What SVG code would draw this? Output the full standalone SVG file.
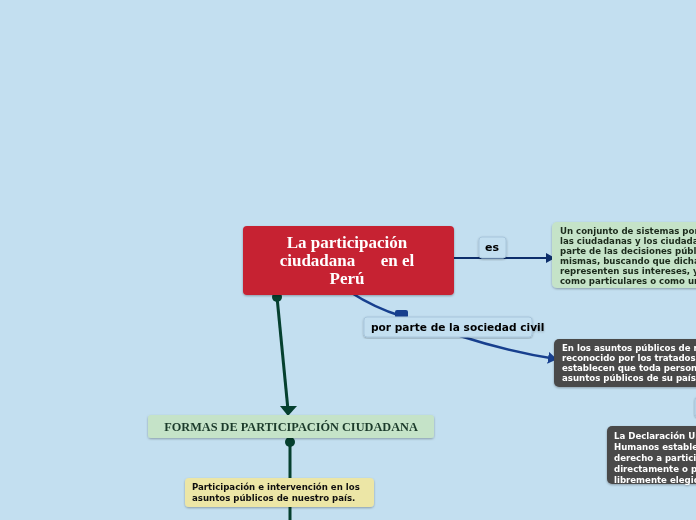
<svg xmlns="http://www.w3.org/2000/svg" width="696" height="520" viewBox="0 0 696 520">
<style>
.s{font-family:"DejaVu Sans",sans-serif;font-weight:bold;font-size:8.6px}
.w{fill:#fff}
</style>
<defs>
<marker id="ab" markerWidth="10" markerHeight="10" refX="8" refY="5" orient="auto" markerUnits="userSpaceOnUse"><path d="M0,0L9,5L0,10z" fill="#0d2e6b"/></marker>
<marker id="ab2" markerWidth="10" markerHeight="12" refX="8" refY="6" orient="auto" markerUnits="userSpaceOnUse"><path d="M0,0L9,6L0,12z" fill="#173f8e"/></marker>
<filter id="sh"><feDropShadow dx="0" dy="1" stdDeviation="0.8" flood-opacity="0.3"/></filter>
</defs>
<rect width="696" height="520" fill="#c3dff0"/>
<g id="connectors" fill="none">
<path d="M454,258 L554,258" stroke="#0d2e6b" stroke-width="2" marker-end="url(#ab)"/>
<path d="M350,292 Q375,308 401,316" stroke="#173f8e" stroke-width="2.5"/>
<path d="M460,336 Q510,352 556,359" stroke="#173f8e" stroke-width="2.5" marker-end="url(#ab2)"/>
<path d="M277,297 L288,410" stroke="#05402f" stroke-width="3"/>
<path d="M280,406 L288,416 L297,406 z" fill="#05402f"/>
<circle cx="277" cy="297" r="5" fill="#05402f"/>
<path d="M290,442 L290,520" stroke="#05402f" stroke-width="3"/>
<circle cx="290" cy="442" r="5" fill="#05402f"/>
<rect x="395" y="310" width="13" height="8" rx="2" fill="#173f8e"/>
</g>
<g id="main" filter="url(#sh)">
<rect x="243" y="226" width="211" height="69" rx="4" fill="#c62033"/>
<text font-family="Liberation Serif,serif" font-weight="bold" font-size="17" class="w" text-anchor="middle" xml:space="preserve" style="white-space:pre"><tspan x="347" y="248">La participación</tspan><tspan x="347" y="266">ciudadana      en el</tspan><tspan x="347" y="284">Perú</tspan></text>
</g>
<g id="es" filter="url(#sh)">
<rect x="479" y="237" width="27" height="21" rx="3" fill="#c3dff0" stroke="#a8c6dc"/>
<text class="s" x="492" y="251" text-anchor="middle" style="font-size:11px">es</text>
</g>
<g id="def" filter="url(#sh)">
<rect x="552" y="222" width="160" height="66" rx="5" fill="#c5e3c8"/>
<text class="s" fill="#1b2a1b"><tspan x="560" y="234">Un conjunto de sistemas por medio de los cuales</tspan><tspan x="560" y="244">las ciudadanas y los ciudadanos pueden formar</tspan><tspan x="560" y="254">parte de las decisiones públicas, o influir en las</tspan><tspan x="560" y="264">mismas, buscando que dichas decisiones</tspan><tspan x="560" y="274">representen sus intereses, ya sea de ellos</tspan><tspan x="560" y="284">como particulares o como un grupo social.</tspan></text>
</g>
<g id="sociedad" filter="url(#sh)">
<rect x="364" y="317" width="168" height="20" rx="3" fill="#c3dff0" stroke="#a8c6dc"/>
<text class="s" x="371" y="331" style="font-size:10.6px">por parte de la sociedad civil</text>
</g>
<g id="asuntos" filter="url(#sh)">
<rect x="554" y="339" width="160" height="48" rx="5" fill="#4a4a4a"/>
<text class="s w"><tspan x="562" y="351">En los asuntos públicos de nuestro país está</tspan><tspan x="562" y="361">reconocido por los tratados sobre derechos que</tspan><tspan x="562" y="371">establecen que toda persona tiene derecho a los</tspan><tspan x="562" y="381">asuntos públicos de su país.</tspan></text>
</g>
<g id="small" filter="url(#sh)">
<rect x="695" y="397" width="20" height="20" rx="3" fill="#c3dff0" stroke="#a8c6dc"/>
</g>
<g id="declaracion" filter="url(#sh)">
<rect x="607" y="426" width="110" height="58" rx="5" fill="#4a4a4a"/>
<text class="s w"><tspan x="614" y="439">La Declaración Universal de Derechos</tspan><tspan x="614" y="450">Humanos establece que toda persona tiene</tspan><tspan x="614" y="461">derecho a participar en el gobierno de su país,</tspan><tspan x="614" y="472">directamente o por medio de representantes</tspan><tspan x="614" y="483">libremente elegidos.</tspan></text>
</g>
<g id="formas" filter="url(#sh)">
<rect x="148" y="415" width="286" height="23" rx="3" fill="#c5e3c8"/>
<text x="291" y="431" text-anchor="middle" font-family="Liberation Serif,serif" font-weight="bold" font-size="12.3" fill="#1b3a2b">FORMAS DE PARTICIPACIÓN CIUDADANA</text>
</g>
<g id="intervencion" filter="url(#sh)">
<rect x="185" y="478" width="189" height="29" rx="4" fill="#ece6a6"/>
<text class="s" fill="#111"><tspan x="192" y="490">Participación e intervención en los</tspan><tspan x="192" y="501">asuntos públicos de nuestro país.</tspan></text>
</g>
</svg>
